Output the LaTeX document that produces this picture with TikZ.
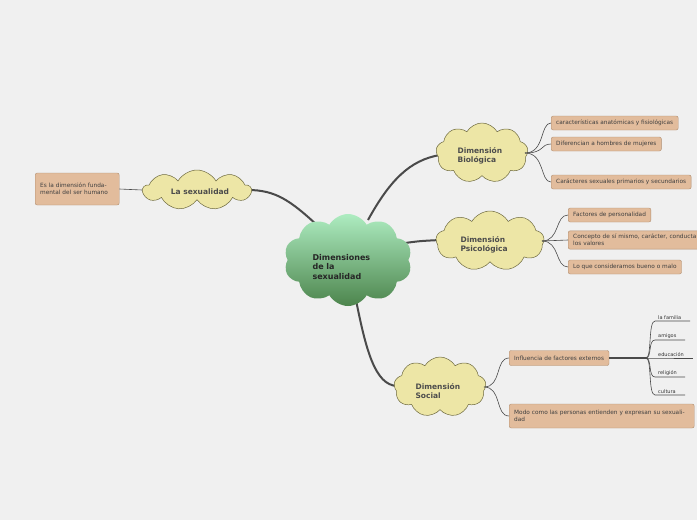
\documentclass[tikz,border=0pt]{standalone}
\usepackage{fontspec}
\setmainfont{DejaVu Sans}
\usetikzlibrary{shapes.symbols}
\definecolor{bg}{HTML}{F0F0F0}
\definecolor{cl}{HTML}{EDE6A6}
\definecolor{clb}{HTML}{6E6A40}
\definecolor{bx}{HTML}{E2BC9C}
\definecolor{bxd}{HTML}{B08E70}
\definecolor{ln}{HTML}{4A4A4A}
\begin{document}
\begin{tikzpicture}[x=1pt,y=-1pt,
  cloudn/.style={cloud,cloud puffs=9,cloud puff arc=120,aspect=1.6,fill=cl,draw=clb,line width=0.5pt,inner sep=0pt,font=\fontsize{7.5}{8.5}\selectfont\bfseries,text=black!75,align=left},
  box/.style={draw=bxd,fill=bx,rounded corners=2pt,font=\fontsize{5.8}{7}\selectfont,text=black!75,anchor=west,align=left,inner xsep=5pt,minimum height=14pt},
  leaf/.style={font=\fontsize{5}{6}\selectfont,text=black!80,anchor=south west,inner sep=1pt},
  thick/.style={draw=ln,line width=2pt},
  thin/.style={draw=ln,line width=0.6pt}]
\fill[bg] (0,0) rectangle (697,520);
\clip (0,0) rectangle (697,520);
% connectors from center
\draw[thick] (368,220) .. controls (390,180) and (410,160) .. (440,155);
\draw[thick] (405,243) .. controls (420,241) .. (440,240);
\draw[thick] (356,300) .. controls (366,350) and (375,385) .. (397,386);
\draw[thick] (318,226) .. controls (290,200) and (275,190) .. (248,190);
% center cloud
\node[cloud,cloud puffs=10,cloud puff arc=120,aspect=1.45,minimum width=128pt,minimum height=92pt,top color=green!20!white!85!teal,bottom color=black!45!green!40!gray,draw=none,inner sep=0pt] (c) at (348,260) {};
\node[font=\fontsize{8}{9.5}\selectfont\bfseries,text=black!85,align=left,anchor=west] (ct) at (309,267) {Dimensiones\\de la\\sexualidad};
% clouds
\node[cloudn,minimum width=92pt,minimum height=60pt] (bio) at (482,153) {};
\node[font=\fontsize{7.5}{8.5}\selectfont\bfseries,text=black!70,align=left,anchor=west] (biot) at (454,156) {Dimensión\\Biológica};
\node[cloudn,minimum width=108pt,minimum height=60pt] (psi) at (490,241) {};
\node[font=\fontsize{7.5}{8.5}\selectfont\bfseries,text=black!70,align=left,anchor=west] (psit) at (457,245) {Dimensión\\Psicológica};
\node[cloudn,minimum width=92pt,minimum height=60pt] (soc) at (440,387) {};
\node[font=\fontsize{7.5}{8.5}\selectfont\bfseries,text=black!70,align=left,anchor=west] (soct) at (412,391) {Dimensión\\Social};
\node[cloudn,minimum width=108pt,minimum height=40pt,aspect=3] (sex) at (197,190) {};
\node[font=\fontsize{7.5}{8.5}\selectfont\bfseries,text=black!70] (sext) at (200,192) {La sexualidad};
% boxes
\node[box] (b1) at (551,123) {características anatómicas y fisiológicas};
\node[box] (b2) at (551,144) {Diferencian a hombres de mujeres};
\node[box] (b3) at (551,182) {Carácteres sexuales primarios y secundarios};
\node[box] (p1) at (568,215) {Factores de personalidad};
\node[box,text width=135pt] (p2) at (568,240) {Concepto de sí mismo, carácter, conducta y\\los valores};
\node[box] (p3) at (568,267) {Lo que consideramos bueno o malo};
\node[box,minimum height=15pt] (s1) at (509,358) {Influencia de factores externos};
\node[box,text width=175pt,minimum height=24pt] (s2) at (509,416) {Modo como las personas entienden y expresan su sexualidad};
\node[box,text width=74pt,minimum height=32pt] (e) at (35,189) {Es la dimensión fundamental del ser humano};
% thin connectors
\draw[thin] (525,153) .. controls (545,153) and (540,123) .. (b1.west);
\draw[thin] (525,153) .. controls (545,153) and (540,144) .. (b2.west);
\draw[thin] (525,153) .. controls (545,153) and (540,182) .. (b3.west);
\draw[thin] (542,241) .. controls (560,241) and (555,215) .. (p1.west);
\draw[thin] (542,241) -- (p2.west);
\draw[thin] (542,241) .. controls (560,241) and (555,267) .. (p3.west);
\draw[thin] (484,387) .. controls (502,387) and (495,358) .. (s1.west);
\draw[thin] (484,387) .. controls (502,387) and (495,416) .. (s2.west);
\draw[thin] (e.east) -- (sex.west);
% leaves
\coordinate (lo) at (646,358);
\draw[thin,line width=1.2pt] (s1.east) -- (lo);
\foreach \yy/\t/\e [count=\i] in {321/la familia/690,340/amigos/685,358/educación/693,377/religión/685,395/cultura/685}{
  \node[leaf] (leaf\i) at (657,\yy) {\t};
  \draw[thin] (lo) .. controls (652,358) and (648,\yy) .. (655,\yy) -- (\e,\yy);
}
\end{tikzpicture}
\end{document}
